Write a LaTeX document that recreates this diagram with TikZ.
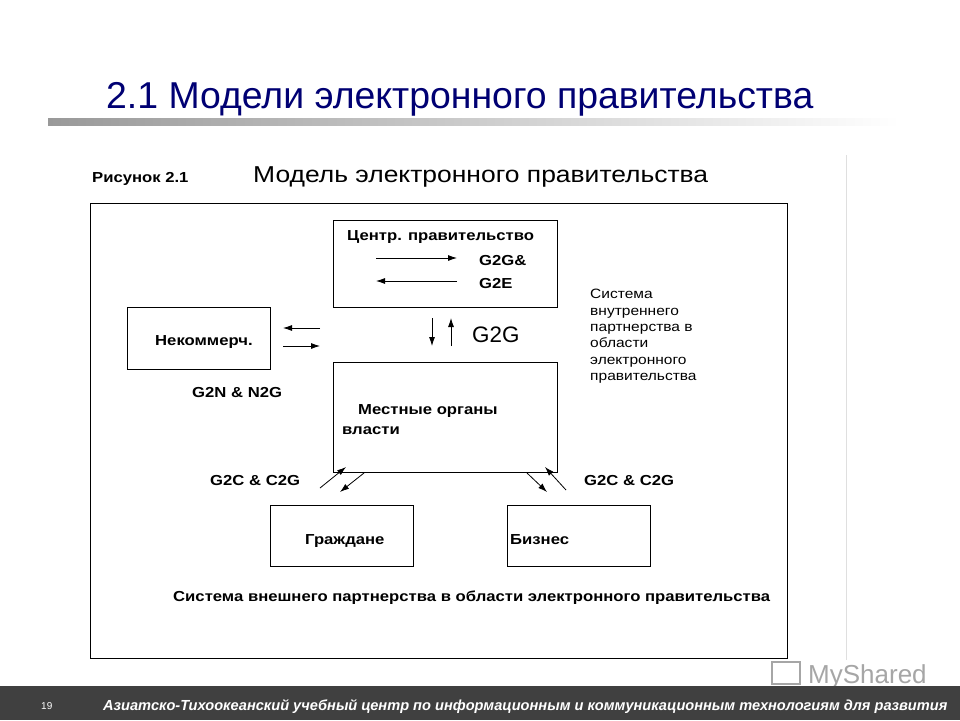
\documentclass[tikz,border=0pt]{standalone}
\usepackage{fontspec}
\setmainfont{Liberation Sans}
\newfontfamily\wide[FakeStretch=1.15]{Liberation Sans}
\usetikzlibrary{arrows.meta}
\begin{document}
\begin{tikzpicture}[x=1pt,y=-1pt,
  bx/.style={draw=black,line width=0.8pt,fill=white},
  lbl/.style={font=\wide\bfseries\fontsize{14.5}{15}\selectfont,anchor=base west,inner sep=0},
  ar/.style={-{Latex[length=9pt,width=6pt]},line width=0.8pt}]
\useasboundingbox (0,0) rectangle (960,720);
\fill[white] (0,0) rectangle (960,720);
\node[anchor=base west,inner sep=0,text=blue!45!black,font=\fontsize{37.4}{40}\selectfont] (title) at (106,108) {2.1 Модели электронного правительства};
\shade[left color=gray!80,right color=white] (48,118) rectangle (900,125);
\draw[gray!25,line width=1pt] (846,155) -- (846,660);
\node[lbl] (ris) at (92,182) {Рисунок 2.1};
\node[anchor=base west,inner sep=0,font=\wide\fontsize{23}{24}\selectfont] (mtitle) at (253,182) {Модель электронного правительства};
\draw[line width=0.8pt] (90,203) rectangle (787,658);
\node[bx,minimum width=224,minimum height=87,anchor=north west] (cen) at (333,220) {};
\node[lbl] (cent) at (347,240) {Центр. правительство};
\coordinate (a1s) at (376,258); \coordinate (a1e) at (457,258);
\coordinate (a2s) at (457,281); \coordinate (a2e) at (376,281);
\draw[ar] (a1s) -- (a1e); \draw[ar] (a2s) -- (a2e);
\node[lbl] (g2ga) at (479,265) {G2G\&};
\node[lbl] (g2e) at (479,288) {G2E};
\node[bx,minimum width=143,minimum height=62,anchor=north west] (nek) at (127,307) {};
\node[lbl] (nekt) at (155,345) {Некоммерч.};
\coordinate (b1s) at (320,328); \coordinate (b1e) at (283,328);
\coordinate (b2s) at (283,346); \coordinate (b2e) at (320,346);
\draw[ar] (b1s) -- (b1e); \draw[ar] (b2s) -- (b2e);
\node[lbl] (g2n) at (192,397) {G2N \& N2G};
\coordinate (c1s) at (432,318); \coordinate (c1e) at (432,346);
\coordinate (c2s) at (451,346); \coordinate (c2e) at (451,318);
\draw[ar] (c1s) -- (c1e); \draw[ar] (c2s) -- (c2e);
\node[lbl,font=\fontsize{22.4}{24}\selectfont] (g2g) at (472,342) {G2G};
\node[anchor=north west,inner sep=0,align=left,font=\wide\fontsize{13.5}{16.4}\selectfont] (vn) at (590,289) {Система\\внутреннего\\партнерства в\\области\\электронного\\правительства};
\node[bx,minimum width=224,minimum height=110,anchor=north west] (loc) at (333,362) {};
\node[lbl] (loct) at (358,414) {Местные органы};
\node[lbl] (loct2) at (342,434) {власти};
\coordinate (d1s) at (320,488); \coordinate (d1e) at (346,467);
\coordinate (d2s) at (364,473); \coordinate (d2e) at (340,492);
\coordinate (d3s) at (527,473); \coordinate (d3e) at (547,492);
\coordinate (d4s) at (566,490); \coordinate (d4e) at (545,467);
\draw[ar] (d1s) -- (d1e); \draw[ar] (d2s) -- (d2e);
\draw[ar] (d3s) -- (d3e); \draw[ar] (d4s) -- (d4e);
\node[lbl] (g2cl) at (210,485) {G2C \& C2G};
\node[lbl] (g2cr) at (584,485) {G2C \& C2G};
\node[bx,minimum width=143,minimum height=61,anchor=north west] (cit) at (270,505) {};
\node[lbl] (citt) at (305,544) {Граждане};
\node[bx,minimum width=143,minimum height=61,anchor=north west] (biz) at (507,505) {};
\node[lbl] (bizt) at (510,544) {Бизнес};
\node[lbl] (ext) at (173,601) {Система внешнего партнерства в области электронного правительства};
\node[anchor=base west,inner sep=0,text=gray!70,font=\fontsize{26}{28}\selectfont] (ms) at (808,683) {MyShared};
\draw[gray!70,line width=1.5pt] (772,662) rectangle (800,684);
\fill[gray!50!black] (0,686) rectangle (960,720);
\node[anchor=base west,inner sep=0,text=white,font=\fontsize{10}{12}\selectfont] (pg) at (41,709) {19};
\node[anchor=base west,inner sep=0,text=white,font=\bfseries\itshape\fontsize{14.6}{15}\selectfont] (foot) at (103,710) {Азиатско-Тихоокеанский учебный центр по информационным и коммуникационным технологиям для развития};
\end{tikzpicture}
\end{document}
